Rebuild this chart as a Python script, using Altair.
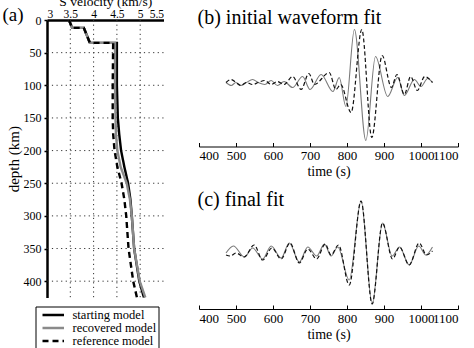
import altair as alt
import pandas as pd

FONT = "Liberation Serif, Times New Roman, Times, serif"

# ---------------- panel (a): S-velocity profiles ----------------
models = ["starting model", "recovered model", "reference model"]
depth_km = [0, 12, 12, 35, 35, 100, 150, 175, 200, 225, 250, 275, 300, 350, 400, 425]
vs_starting = [3.47, 3.54, 3.79, 3.92, 4.50, 4.50, 4.52, 4.55, 4.59, 4.66, 4.74, 4.79, 4.82, 4.87, 4.98, 5.08]
vs_recovered = [3.47, 3.54, 3.79, 3.92, 4.46, 4.46, 4.47, 4.48, 4.51, 4.58, 4.71, 4.78, 4.82, 4.87, 4.99, 5.11]
vs_reference = [3.47, 3.54, 3.79, 3.92, 4.42, 4.41, 4.41, 4.42, 4.45, 4.51, 4.60, 4.66, 4.70, 4.75, 4.85, 4.93]
vel_ticks = [3, 3.5, 4, 4.5, 5, 5.5]
vel_grid = [3.5, 4, 4.5, 5]
depth_ticks = [0, 50, 100, 150, 200, 250, 300, 350, 400]
depth_grid = [50, 100, 150, 200, 250, 300, 350, 400]

# ---------------- panels (b), (c): waveforms ----------------
time_ticks = [400, 500, 600, 700, 800, 900, 1000, 1100]

b_gray_t = [473, 487, 500, 513, 528, 545, 560, 578, 595, 612, 630, 653, 680, 700, 730, 762, 779, 797,
            820, 851, 877, 910, 937, 955, 982, 1000, 1018, 1031]
b_gray_a = [0, -3, 0, -3, 0, 3, 0, -2, 2, -3, 1, -5, 6, -7, 8, -9, 5, -24,
            53, -58, 26, -14, 5, -13, 3, -4, 4, 0]
b_dash_t = [473, 487, 500, 513, 528, 545, 560, 578, 595, 612, 630, 653, 676, 697, 712, 752, 770, 783,
            811, 840, 867, 895, 920, 935, 955, 972, 990, 1010, 1031]
b_dash_a = [0, 3, 0, -3, 0, -2, 0, 2, -2, 1, -2, 6, -7, 9, -2, 10, -7, -2,
            -30, 53, -55, 27, -5, 8, -12, 6, -8, 6, 0]

c_gray_t = [473, 493, 523, 545, 572, 595, 622, 644, 671, 694, 718, 739, 757, 775, 806,
            838, 868, 896, 922, 942, 968, 994, 1013, 1031]
c_gray_a = [0, 7, -4, 5, -6, 7, -5, 10, -9, 6, -3, 9, -3, 6, -27,
            52, -51, 30, -3, 6, -12, 7, -2, 6]
c_dash_t = [473, 485, 500, 522, 549, 572, 597, 622, 646, 671, 694, 718, 741, 757, 777, 806,
            838, 868, 896, 923, 942, 968, 995, 1015, 1031]
c_dash_a = [-2, -3, 0, -4, 8, -7, 5, -6, 10, -10, 4, -6, 9, -2, 8, -32,
            52, -51, 30, -6, 6, -12, 10, -2, 2]

# ---------------- build tables ----------------
rows = []
for m, vals in zip(models, [vs_starting, vs_recovered, vs_reference]):
    for i, (d, v) in enumerate(zip(depth_km, vals)):
        rows.append({"model": m, "depth": d, "v": v, "idx": i})
prof = pd.DataFrame(rows)

xs_a = alt.Scale(domain=[3, 5.5], nice=False, zero=False)
ys_a = alt.Scale(domain=[0, 425], nice=False, zero=False, reverse=True)

x_axis_a = alt.Axis(
    orient="top", values=vel_ticks, format="~g", title="S velocity (km/s)",
    grid=False, ticks=False, tickSize=0, labelPadding=3, labelBaseline="alphabetic",
    titleBaseline="alphabetic", titleY=-15,
    domainColor="black", domainWidth=2.5, labelOverlap=False,
    labelFont=FONT, labelFontSize=11.5, labelColor="black",
    titleFont=FONT, titleFontSize=13.5, titleFontWeight="normal", titleColor="black")
y_axis_a = alt.Axis(
    orient="left", values=depth_ticks, title="depth (km)", grid=False,
    ticks=True, tickSize=3, tickWidth=1.5, tickColor="black", labelPadding=3,
    domainColor="black", domainWidth=2.5, titlePadding=2, labelOverlap=False,
    labelFont=FONT, labelFontSize=12, labelColor="black",
    titleFont=FONT, titleFontSize=15, titleFontWeight="normal", titleColor="black")

legend_a = alt.Legend(
    title=None, orient="none", legendX=-11.5, legendY=286.5, direction="vertical",
    symbolType="M-0.3,0H4", symbolSize=100, symbolStrokeWidth=2.4,
    labelFont=FONT, labelFontSize=12.5, labelColor="black", labelOffset=22,
    padding=2, rowPadding=-2, strokeColor="black", fillColor="white", cornerRadius=0,
)

grid_vx = alt.Chart(pd.DataFrame({"g": vel_grid})).mark_rule(
    strokeDash=[1.2, 3.4], color="#333", strokeWidth=1
).encode(x=alt.X("g:Q", scale=xs_a, axis=x_axis_a))
grid_dy = alt.Chart(pd.DataFrame({"g": depth_grid})).mark_rule(
    strokeDash=[1.2, 3.4], color="#333", strokeWidth=1
).encode(y=alt.Y("g:Q", scale=ys_a, axis=y_axis_a))

lines_a = alt.Chart(prof).mark_line(strokeWidth=2.4).encode(
    x=alt.X("v:Q", scale=xs_a, axis=x_axis_a),
    y=alt.Y("depth:Q", scale=ys_a, axis=y_axis_a),
    color=alt.Color("model:N", sort=models,
                    scale=alt.Scale(domain=models, range=["black", "#8a8a8a", "black"]),
                    legend=legend_a),
    strokeDash=alt.StrokeDash("model:N", sort=models,
                              scale=alt.Scale(domain=models, range=[[1, 0], [1, 0], [6, 4]]),
                              legend=legend_a),
    order=alt.Order("idx:Q"),
)

panel_a = alt.layer(grid_vx, grid_dy, lines_a).properties(
    width=116.5, height=277.5,
    title=alt.TitleParams("(a)", anchor="start", frame="group", font=FONT, fontSize=19,
                          fontWeight="normal", color="black", offset=0, dx=-44.5, dy=46,
                          baseline="alphabetic"),
)

# ---------------- waveform panels ----------------
axis_main = alt.Axis(values=time_ticks, format="d", title="time (s)", grid=False, ticks=False,
                     domainColor="black", domainWidth=1, labelPadding=3, titlePadding=2,
                     labelOverlap=False,
                     labelFont=FONT, labelFontSize=13, labelColor="black",
                     titleFont=FONT, titleFontSize=14, titleFontWeight="normal", titleColor="black",
                     orient="bottom")
axis_ticks = alt.Axis(values=time_ticks, title=None, grid=False, domain=False, labels=False,
                      ticks=True, tickSize=4, tickColor="black", tickWidth=1, offset=-4,
                      orient="bottom")


def wave_panel(gt, ga, dt, da, dom, h, title, dy):
    g = pd.DataFrame({"t": gt, "a": ga})
    d = pd.DataFrame({"t": dt, "a": da})
    ys = alt.Scale(domain=dom, nice=False, zero=False)
    gl = alt.Chart(g).mark_line(interpolate="monotone", color="#7a7a7a", strokeWidth=1.1).encode(
        x=alt.X("t:Q", scale=alt.Scale(domain=[400, 1100], nice=False, zero=False), axis=axis_main),
        y=alt.Y("a:Q", scale=ys, axis=None),
    )
    dl = alt.Chart(d).mark_line(interpolate="monotone", color="#111", strokeWidth=1.2,
                                strokeDash=[4, 2.5]).encode(
        x=alt.X("t:Q", scale=alt.Scale(domain=[400, 1100], nice=False, zero=False), axis=axis_ticks),
        y=alt.Y("a:Q", scale=ys, axis=None),
    )
    return alt.layer(gl, dl).resolve_scale(x="independent").resolve_axis(x="independent").properties(
        width=259, height=h,
        title=alt.TitleParams(title, anchor="start", frame="group", font=FONT, fontSize=20,
                              fontWeight="normal", color="black", offset=0, dx=-1.5, dy=dy,
                              baseline="alphabetic"),
    )


panel_b = wave_panel(b_gray_t, b_gray_a, b_dash_t, b_dash_a, [-64, 62.5], 126.5,
                     "(b) initial waveform fit", 24)
panel_c = wave_panel(c_gray_t, c_gray_a, c_dash_t, c_dash_a, [-56, 53], 109,
                     "(c) final fit", 27.5)

right = alt.vconcat(panel_b, panel_c, spacing=53, bounds="flush")
chart = alt.hconcat(panel_a, right, spacing=35, bounds="flush").properties(
    padding={"left": 2, "top": -6, "right": 0, "bottom": 0},
    background="white",
).configure_view(stroke=None).configure_title(font=FONT).configure_axis(
    labelFont=FONT, titleFont=FONT).configure_legend(labelFont=FONT)

chart.save("out.html", embed_options={"renderer": "svg", "actions": False})
